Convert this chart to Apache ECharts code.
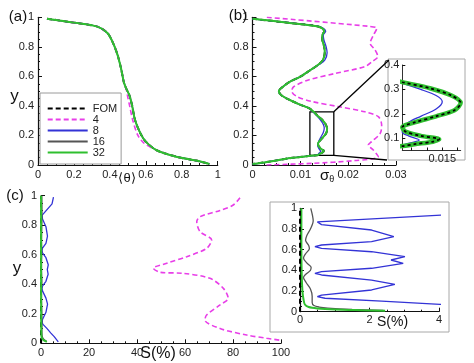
<!DOCTYPE html>
<html>
<head>
<meta charset="utf-8">
<script src="https://cdn.jsdelivr.net/npm/echarts@6/dist/echarts.min.js"></script>
<style>html,body{margin:0;padding:0;background:#fff}#c{width:474px;height:363px}</style>
</head>
<body>
<div id="c"></div>
<script>
// ---------- DATA ----------
const seriesNames = ['FOM', '4', '8', '16', '32'];
// (a) <theta> vs y : [theta, y]
const aFOM = [[0.05,0.99],[0.2,0.964],[0.33,0.937],[0.385,0.896],[0.41,0.846],[0.44,0.756],[0.462,0.655],[0.477,0.564],[0.49,0.52],[0.508,0.474],[0.523,0.406],[0.54,0.305],[0.57,0.214],[0.6,0.158],[0.66,0.10],[0.77,0.056],[0.88,0.03],[0.954,0.007]];
const a4   = [[0.05,0.99],[0.2,0.964],[0.33,0.937],[0.385,0.896],[0.41,0.846],[0.44,0.756],[0.462,0.655],[0.477,0.564],[0.49,0.52],[0.498,0.47],[0.51,0.4],[0.528,0.3],[0.556,0.2],[0.588,0.15],[0.66,0.10],[0.77,0.056],[0.88,0.03],[0.954,0.007]];
const a8   = aFOM;
const a16  = aFOM;
const a32  = aFOM;
// (b) sigma_theta vs y : [sigma, y]
const bFOM = [[0,0.99],[0.007,0.965],[0.0135,0.94],[0.0146,0.925],[0.015,0.905],[0.0146,0.88],[0.0146,0.85],[0.015,0.8],[0.0151,0.76],[0.0147,0.71],[0.0138,0.68],[0.0122,0.645],[0.0101,0.6],[0.0076,0.56],[0.006,0.52],[0.0055,0.5],[0.0061,0.47],[0.0078,0.44],[0.0098,0.41],[0.0118,0.385],[0.0128,0.36],[0.0137,0.33],[0.0146,0.305],[0.0153,0.275],[0.0156,0.245],[0.0154,0.215],[0.0148,0.19],[0.0141,0.165],[0.0137,0.145],[0.0138,0.128],[0.0143,0.11],[0.0149,0.096],[0.0147,0.086],[0.0141,0.076],[0.0137,0.068],[0.0128,0.064],[0.008,0.047],[0.003,0.02],[0,0.006]];
const b4   = [[0.003,1.0],[0.024,0.94],[0.026,0.925],[0.0253,0.88],[0.0246,0.824],[0.0256,0.78],[0.0262,0.734],[0.025,0.70],[0.0235,0.666],[0.0173,0.62],[0.0117,0.576],[0.0086,0.53],[0.0082,0.5],[0.0093,0.463],[0.0124,0.43],[0.018,0.395],[0.0235,0.36],[0.0263,0.327],[0.027,0.27],[0.0267,0.214],[0.0249,0.158],[0.0242,0.135],[0.0253,0.10],[0.0263,0.056],[0.0214,0.03],[0.0124,0.011],[0.0026,0]];
const b8   = [[0,0.99],[0.007,0.965],[0.0135,0.94],[0.0148,0.925],[0.0153,0.905],[0.0148,0.88],[0.0149,0.85],[0.0154,0.8],[0.0156,0.76],[0.0151,0.71],[0.0139,0.68],[0.0122,0.645],[0.0101,0.6],[0.0076,0.56],[0.006,0.52],[0.0055,0.5],[0.0061,0.47],[0.0078,0.44],[0.0098,0.41],[0.0118,0.385],[0.0128,0.355],[0.0137,0.325],[0.0143,0.3],[0.0148,0.275],[0.015,0.25],[0.0148,0.22],[0.0143,0.19],[0.0139,0.165],[0.0137,0.14],[0.0137,0.125],[0.0139,0.11],[0.01425,0.093],[0.0141,0.085],[0.0138,0.076],[0.0137,0.068],[0.0128,0.064],[0.008,0.047],[0.003,0.02],[0,0.006]];
const b16  = bFOM;
const b32  = bFOM;
// zoom window drawn on (b)
const bZoomX = [0.012, 0.017];
const bZoomY = [0.065, 0.36];
// (c) S(%) vs y : [S, y]
const cFOM = [[0,0],[0,1]];
const c4   = [[82.9,0.986],[80.1,0.937],[74.6,0.9],[66.3,0.858],[64.9,0.824],[66.3,0.756],[71.1,0.70],[69,0.643],[60.7,0.587],[52.4,0.542],[46.8,0.508],[49.6,0.481],[59.3,0.474],[70.4,0.44],[76,0.372],[78,0.305],[74.6,0.26],[69,0.192],[68.3,0.158],[74.6,0.10],[85.7,0.056],[94,0.034],[100,0.02]];
const c8   = [[5.2,0.99],[4.6,0.945],[0.5,0.868],[0.45,0.858],[0.62,0.842],[2.06,0.79],[2.7,0.726],[2.06,0.677],[0.62,0.645],[0.43,0.63],[0.62,0.613],[2.06,0.58],[3.02,0.532],[2.62,0.5],[2.97,0.468],[2.06,0.42],[0.62,0.387],[0.43,0.371],[0.62,0.355],[2.06,0.306],[2.73,0.265],[2.06,0.21],[0.62,0.161],[0.5,0.145],[0.72,0.13],[2.35,0.103],[4.03,0.071],[5.5,0.045],[7.2,0.01]];
const c16  = [[0.31,1.0],[0.36,0.93],[0.38,0.88],[0.3,0.8],[0.2,0.74],[0.16,0.69],[0.25,0.64],[0.27,0.61],[0.16,0.56],[0.1,0.52],[0.2,0.47],[0.32,0.43],[0.3,0.4],[0.16,0.36],[0.1,0.33],[0.18,0.28],[0.3,0.22],[0.35,0.15],[0.35,0.09],[0.4,0.06],[0.55,0.045],[0.8,0.035],[1.5,0.022],[2.4,0.012]];
const c32  = [[0.04,1.0],[0.04,0.6],[0.05,0.35],[0.07,0.2],[0.1,0.12],[0.14,0.07],[0.25,0.045],[0.5,0.032],[1.0,0.022],[1.8,0.015],[2.45,0.01]];
// tick labels
const bInsetXLabels = [0.015];
const bInsetXTicks = [0.014, 0.0145, 0.015, 0.0155];
const bInsetYLabels = [0.1, 0.2, 0.3, 0.4];
const cInsetXLabels = [0, 2, 4];

// ---------- STYLE ----------
const FONT = "'Liberation Sans', Arial, Helvetica, sans-serif";
const COLORS = {FOM:'#000000', '4':'#e83ee8', '8':'#3333d6', '16':'#555555', '32':'#2fbf2f'};
const LINE = {
  FOM:{color:COLORS.FOM, width:2, type:[5,3]},
  '4':{color:COLORS['4'], width:1.6, type:[5,3]},
  '8':{color:COLORS['8'], width:1.3, type:'solid'},
  '16':{color:COLORS['16'], width:1.3, type:'solid'},
  '32':{color:COLORS['32'], width:2, type:'solid'}
};

function ax(opts) {
  const o = {
    type:'value',
    axisLine:{show:true, onZero:false, lineStyle:{color:'#111', width:1.2}},
    axisTick:{show:true, inside:true, length:4, lineStyle:{color:'#111', width:1}},
    minorTick:{show:true, splitNumber:4, length:2, lineStyle:{color:'#111', width:1}},
    splitLine:{show:false},
    axisLabel:{color:'#222', fontSize:11, fontFamily:FONT, margin:4}
  };
  for (const k in opts) {
    if (typeof opts[k] === 'object' && !Array.isArray(opts[k]) && o[k]) o[k] = Object.assign({}, o[k], opts[k]);
    else o[k] = opts[k];
  }
  return o;
}

function ser(name, data, xi, extra) {
  return Object.assign({
    type:'line', name:name, data:data, xAxisIndex:xi, yAxisIndex:xi,
    showSymbol:false, symbol:'none', smooth:0.3, animation:false,
    lineStyle:Object.assign({}, LINE[name]),
    itemStyle:{color:COLORS[name]}
  }, extra || {});
}

const chart = echarts.init(document.getElementById('c'), null, {renderer:'canvas'});

const option = {
  backgroundColor:'#fff',
  animation:false,
  textStyle:{fontFamily:FONT},
  legend:{
    show:true, orient:'vertical', left:40, top:93,
    data:seriesNames, selectedMode:false,
    backgroundColor:'#fff', borderColor:'#9a9a9a', borderWidth:1,
    padding:[10, 4, 6, 6.7], itemGap:0, itemWidth:40, itemHeight:10,
    itemStyle:{opacity:0},
    textStyle:{fontSize:11, color:'#222', fontFamily:FONT}
  },
  grid:[
    {left:38, top:17.3, width:179.7, height:147.7},
    {left:252.5, top:17.3, width:143.5, height:147.7},
    {left:402.3, top:65, width:58.4, height:85.5},
    {left:41, top:195.7, width:240, height:147.6},
    {left:300, top:208.3, width:139, height:103.4}
  ],
  xAxis:[
    ax({gridIndex:0, min:0, max:1, interval:0.2}),
    ax({gridIndex:1, min:0, max:0.03, interval:0.01}),
    ax({gridIndex:2, min:0.0137, max:0.0156,
        axisLine:{lineStyle:{color:'#333', width:1}},
        axisTick:{customValues:bInsetXTicks, length:3},
        minorTick:{show:false},
        axisLabel:{customValues:bInsetXLabels, formatter:v => v.toFixed(3), margin:3}}),
    ax({gridIndex:3, min:0, max:100, interval:20}),
    ax({gridIndex:4, min:0, max:4, interval:2, axisLabel:{customValues:cInsetXLabels, margin:3}})
  ],
  yAxis:[
    ax({gridIndex:0, min:0, max:1, interval:0.2}),
    ax({gridIndex:1, min:0, max:1, interval:0.2}),
    ax({gridIndex:2, min:0.05, max:0.4,
        axisLine:{lineStyle:{color:'#333', width:1}},
        axisTick:{customValues:bInsetYLabels, length:3},
        minorTick:{show:false},
        axisLabel:{customValues:bInsetYLabels, margin:3}}),
    ax({gridIndex:3, min:0, max:1, interval:0.2}),
    ax({gridIndex:4, min:0, max:1, interval:0.2, axisLabel:{margin:3}})
  ],
  series:[
    // (a)
    ser('FOM', aFOM, 0), ser('4', a4, 0), ser('8', a8, 0), ser('16', a16, 0), ser('32', a32, 0),
    // (b)
    ser('FOM', bFOM, 1), ser('4', b4, 1), ser('16', b16, 1), ser('8', b8, 1),
    ser('32', b32, 1, {markArea:{silent:true, itemStyle:{color:'rgba(0,0,0,0)', borderColor:'#000', borderWidth:1.3},
      data:[[{coord:[bZoomX[0], bZoomY[0]]},{coord:[bZoomX[1], bZoomY[1]]}]]}}),
    // (b) inset
    ser('8', b8, 2, {z:3}),
    ser('16', b16, 2, {z:3}),
    ser('32', b32, 2, {z:4, lineStyle:Object.assign({}, LINE['32'], {width:4.5})}),
    ser('FOM', bFOM, 2, {z:5, lineStyle:Object.assign({}, LINE.FOM, {width:1.8, type:[3,3]})}),
    // (c)
    ser('FOM', cFOM, 3, {smooth:false}), ser('4', c4, 3), ser('8', c8, 3, {smooth:false}), ser('16', c16, 3), ser('32', c32, 3),
    // (c) inset
    ser('8', c8, 4, {smooth:false, z:3}), ser('16', c16, 4, {z:3}), ser('32', c32, 4, {z:4}),
    ser('FOM', cFOM, 4, {z:5, smooth:false})
  ]
};
chart.setOption(option);

// annotations: inset frames, connectors, labels
const p1 = chart.convertToPixel({gridIndex:1}, [bZoomX[1], bZoomY[1]]);
const p2 = chart.convertToPixel({gridIndex:1}, [bZoomX[1], bZoomY[0]]);
const boxB = {x:388, y:59, w:77, h:101};
const boxC = {x:270, y:202, w:179, h:130};
const txt = (x, y, s, size, extra) => Object.assign({type:'text', x:x, y:y, z:10,
  style:{text:s, fontSize:size, fontFamily:FONT, fill:'#111', align:'center', verticalAlign:'middle'}}, extra || {});
chart.setOption({
  graphic:[
    {type:'rect', z:-1, shape:{x:boxB.x, y:boxB.y, width:boxB.w, height:boxB.h}, style:{fill:'#fff', stroke:'#a8a8a8', lineWidth:1}},
    {type:'rect', z:-1, shape:{x:boxC.x, y:boxC.y, width:boxC.w, height:boxC.h}, style:{fill:'#fff', stroke:'#a8a8a8', lineWidth:1}},
    {type:'line', z:10, shape:{x1:p1[0], y1:p1[1], x2:boxB.x + 1, y2:boxB.y + 1}, style:{stroke:'#000', lineWidth:1.3}},
    {type:'line', z:10, shape:{x1:p2[0], y1:p2[1], x2:boxB.x - 1, y2:boxB.y + boxB.h}, style:{stroke:'#000', lineWidth:1.3}},
    txt(18, 17, '(a)', 15),
    txt(238, 16, '(b)', 15),
    txt(15, 196, '(c)', 15),
    txt(14.5, 96, 'y', 17),
    txt(17, 268, 'y', 17),
    txt(127, 178, '\u27E8\u03B8\u27E9', 13),
    {type:'text', x:320, y:176, z:10, style:{
      text:'{s|\u03C3}{t|\u03B8}', fontFamily:FONT, fill:'#111', verticalAlign:'middle',
      rich:{s:{fontSize:15, fontFamily:FONT, fill:'#111'}, t:{fontSize:9, fontFamily:FONT, fill:'#111', padding:[8,0,0,0]}}}},
    txt(158, 354, 'S(%)', 16),
    txt(392.5, 322, 'S(%)', 14)
  ]
});
</script>
</body>
</html>
